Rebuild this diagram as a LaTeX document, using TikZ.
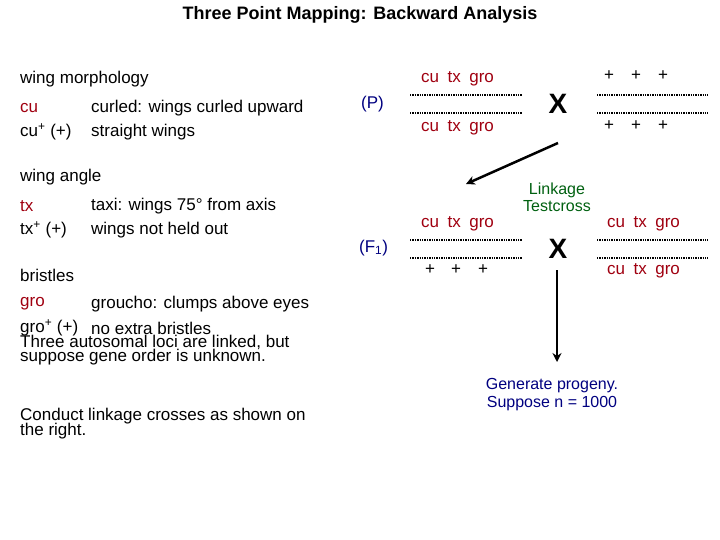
\documentclass[tikz,border=0pt]{standalone}
\usepackage{fontspec}
\setmainfont{Liberation Sans}
\usetikzlibrary{arrows.meta}
\definecolor{gred}{HTML}{A00010}
\definecolor{gblue}{HTML}{000080}
\definecolor{ggreen}{HTML}{006010}
\begin{document}
\begin{tikzpicture}[x=1pt,y=-1pt,
  txt/.style={anchor=west,inner sep=0pt,font=\fontsize{17}{17}\selectfont},
  g/.style={txt,text=gred},
  lbl/.style={txt,text=gblue},
  pl/.style={anchor=center,inner sep=0pt,font=\fontsize{17}{17}\selectfont},
  chrom/.style={line width=1.3pt,dash pattern=on 1.3pt off 1.1pt},
  xx/.style={anchor=center,inner sep=0pt,font=\fontsize{28}{28}\selectfont\bfseries},
  arr/.style={line width=2.5pt,-{Stealth[length=9pt,width=9pt]}}]
\useasboundingbox (0,0) rectangle (720,540);
\node[pl,font=\fontsize{18}{18}\selectfont\bfseries] (title) at (360,15) {Three Point Mapping: Backward Analysis};
% left column
\node[txt] (wm) at (20,79) {wing morphology};
\node[g] (cu) at (20,108) {cu};
\node[txt] (cud) at (91,108) {curled: wings curled upward};
\node[txt] (cup) at (20,132) {cu\textsuperscript{+} (+)};
\node[txt] (cupd) at (91,132) {straight wings};
\node[txt] (wa) at (20,177) {wing angle};
\node[g] (tx) at (20,206) {tx};
\node[txt] (txd) at (91,206) {taxi: wings 75° from axis};
\node[txt] (txp) at (20,230) {tx\textsuperscript{+} (+)};
\node[txt] (txpd) at (91,230) {wings not held out};
\node[txt] (br) at (20,275) {bristles};
\node[g] (gro) at (20,304) {gro};
\node[txt] (grod) at (91,304) {groucho: clumps above eyes};
\node[txt] (grop) at (20,328) {gro\textsuperscript{+} (+)};
\node[txt] (gropd) at (91,328) {no extra bristles};
\node[txt] (p1a) at (20,342) {Three autosomal loci are linked, but};
\node[txt] (p1b) at (20,357) {suppose gene order is unknown.};
\node[txt] (p2a) at (20,416) {Conduct linkage crosses as shown on};
\node[txt] (p2b) at (20,431) {the right.};
% P
\node[lbl] (P) at (361,104) {(P)};
\node[g] (p1t) at (421,79) {cu\enspace tx\enspace gro};
\node[g] (p1bb) at (421,128) {cu\enspace tx\enspace gro};
\draw[chrom] (410,95) -- (522,95);
\draw[chrom] (410,113) -- (522,113);
\node[xx] (x1) at (558,104) {X};
\node[pl] (pa1) at (609,76) {+};
\node[pl] (pa2) at (636,76) {+};
\node[pl] (pa3) at (663,76) {+};
\node[pl] (pb1) at (609,126) {+};
\node[pl] (pb2) at (636,126) {+};
\node[pl] (pb3) at (663,126) {+};
\draw[chrom] (597,95) -- (708,95);
\draw[chrom] (597,113) -- (708,113);
\coordinate (a1s) at (558,143);
\coordinate (a1e) at (466,184);
\draw[arr] (a1s) -- (a1e);
\node[pl,text=ggreen,align=center,font=\fontsize{16}{16}\selectfont] (lt) at (557,197) {Linkage\\[1pt]Testcross};
% F1
\node[lbl] (F1) at (359,248) {(F\textsubscript{1})};
\node[g] (f1t) at (421,224) {cu\enspace tx\enspace gro};
\node[pl] (fb1) at (430,270) {+};
\node[pl] (fb2) at (456,270) {+};
\node[pl] (fb3) at (483,270) {+};
\draw[chrom] (410,240) -- (522,240);
\draw[chrom] (410,258) -- (522,258);
\node[xx] (x2) at (558,249) {X};
\node[g] (tt) at (607,224) {cu\enspace tx\enspace gro};
\node[g] (tb) at (607,271) {cu\enspace tx\enspace gro};
\draw[chrom] (597,240) -- (708,240);
\draw[chrom] (597,258) -- (708,258);
\coordinate (a2s) at (557,270);
\coordinate (a2e) at (557,362);
\draw[arr] (a2s) -- (a2e);
\node[pl,text=gblue,align=center,font=\fontsize{16}{16}\selectfont] (gen) at (552,395) {Generate progeny.\\[2pt]Suppose n = 1000};
\end{tikzpicture}
\end{document}
